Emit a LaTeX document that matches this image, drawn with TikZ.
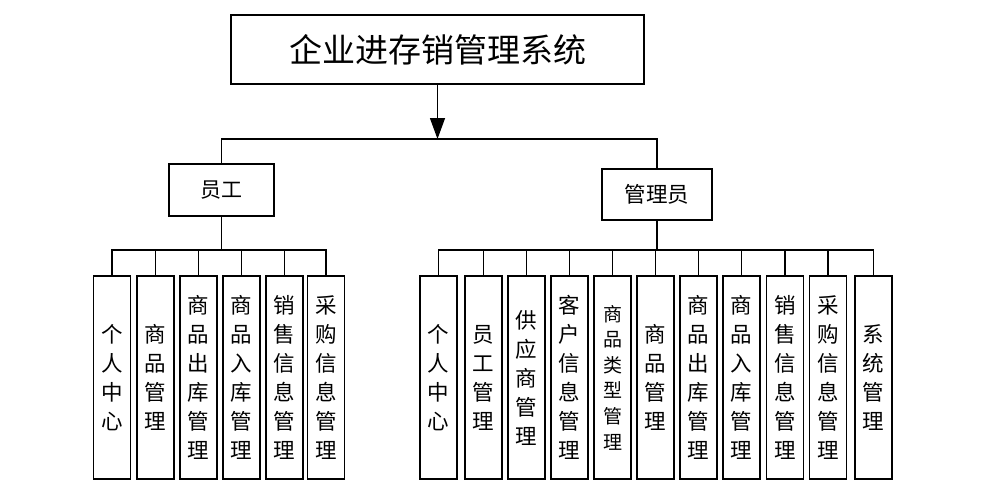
\documentclass[tikz,border=0pt]{standalone}
\usepackage{fontspec}
\newfontfamily\cjk{Noto Sans CJK SC}
\usetikzlibrary{arrows.meta}

\begin{document}
\begin{tikzpicture}[x=1pt, y=-1pt, line width=1.3pt,
	box/.style={draw, line width=1.5pt, inner sep=0pt, font=\cjk},
	leaf/.style={box, minimum width=37pt, minimum height=203pt, align=center, font=\cjk\fontsize{21.5}{29}\selectfont}]

	\useasboundingbox (0,0) rectangle (1003,495);

	\node[box, minimum width=413pt, minimum height=69pt, font=\cjk\fontsize{33}{33}\selectfont] (sys) at (437.5,49.5) {企业进存销管理系统};
	\node[box, minimum width=105pt, minimum height=52pt, font=\cjk\fontsize{21}{21}\selectfont] (yg) at (221.5,190) {员工};
	\node[box, minimum width=110pt, minimum height=51pt, font=\cjk\fontsize{21.5}{21.5}\selectfont] (gly) at (657,194.5) {管理员};

	\coordinate (bus) at (437.5,139);
	\coordinate (ybus) at (221.5,250);
	\coordinate (gbus) at (657,250);

	% 员工
	\node[leaf] (y1) at (112,377.5) {个\\人\\中\\心};
	\node[leaf] (y2) at (155.5,377.5) {商\\品\\管\\理};
	\node[leaf] (y3) at (198.5,377.5) {商\\品\\出\\库\\管\\理};
	\node[leaf] (y4) at (241.5,377.5) {商\\品\\入\\库\\管\\理};
	\node[leaf] (y5) at (284.5,377.5) {销\\售\\信\\息\\管\\理};
	\node[leaf] (y6) at (326,377.5) {采\\购\\信\\息\\管\\理};

	% 管理员
	\node[leaf] (g1) at (438.5,377.5) {个\\人\\中\\心};
	\node[leaf] (g2) at (483.5,377.5) {员\\工\\管\\理};
	\node[leaf] (g3) at (526.5,377.5) {供\\应\\商\\管\\理};
	\node[leaf] (g4) at (569.5,377.5) {客\\户\\信\\息\\管\\理};
	\node[leaf, font=\cjk\fontsize{19}{25.6}\selectfont] (g5) at (612.5,377.5) {商\\品\\类\\型\\管\\理};
	\node[leaf] (g6) at (655.5,377.5) {商\\品\\管\\理};
	\node[leaf] (g7) at (698.5,377.5) {商\\品\\出\\库\\管\\理};
	\node[leaf] (g8) at (741.5,377.5) {商\\品\\入\\库\\管\\理};
	\node[leaf] (g9) at (785,377.5) {销\\售\\信\\息\\管\\理};
	\node[leaf] (g10) at (828,377.5) {采\\购\\信\\息\\管\\理};
	\node[leaf] (g11) at (873.5,377.5) {系\\统\\管\\理};

	\draw[-{Triangle[length=21pt,width=15pt]}] (sys.south) -- (bus);
	\draw (yg.north) |- (bus) -| (gly.north);

	\draw (yg.south) -- (ybus);
	\draw (y1.north) |- (ybus) -| (y6.north);
	\draw (y2.north) -- (y2.north |- ybus);
	\draw (y3.north) -- (y3.north |- ybus);
	\draw (y4.north) -- (y4.north |- ybus);
	\draw (y5.north) -- (y5.north |- ybus);

	\draw (gly.south) -- (gbus);
	\draw (g1.north) |- (gbus) -| (g11.north);
	\draw (g2.north) -- (g2.north |- gbus);
	\draw (g3.north) -- (g3.north |- gbus);
	\draw (g4.north) -- (g4.north |- gbus);
	\draw (g5.north) -- (g5.north |- gbus);
	\draw (g6.north) -- (g6.north |- gbus);
	\draw (g7.north) -- (g7.north |- gbus);
	\draw (g8.north) -- (g8.north |- gbus);
	\draw (g9.north) -- (g9.north |- gbus);
	\draw (g10.north) -- (g10.north |- gbus);

\end{tikzpicture}
\end{document}
